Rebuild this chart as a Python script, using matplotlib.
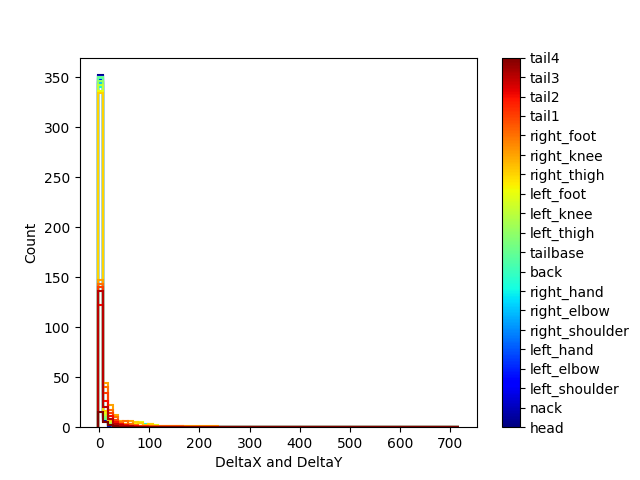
import numpy as np
import matplotlib
matplotlib.use("Agg")
import matplotlib.pyplot as plt
from matplotlib import cm
from matplotlib.colors import Normalize

# body parts in colour order (bottom -> top of the colorbar)
BODYPARTS = ["head", "nack", "left_shoulder", "left_elbow", "left_hand",
             "right_shoulder", "right_elbow", "right_hand", "back", "tailbase",
             "left_thigh", "left_knee", "left_foot", "right_thigh", "right_knee",
             "right_foot", "tail1", "tail2", "tail3", "tail4"]

# histogram bins (width 10, covering the DeltaX/DeltaY range)
BIN_START = -2.5
BIN_WIDTH = 10.0
N_BINS = 72

# counts per bin (remaining bins are zero)
HEAD = [352, 6, 1]
NACK = [351, 7, 1]
LEFT_SHOULDER = [348, 9, 2]
LEFT_ELBOW = [345, 11, 3, 1]
LEFT_HAND = [343, 14, 3, 1, 0, 0, 0, 0, 0, 2, 1]
RIGHT_SHOULDER = [346, 10, 3, 1]
RIGHT_ELBOW = [344, 12, 4, 1]
RIGHT_HAND = [340, 16, 4, 1, 0, 0, 0, 0, 0, 3, 1]
BACK = [349, 9, 2, 1]
TAILBASE = [350, 8, 2]
LEFT_THIGH = [346, 10, 3, 1]
LEFT_KNEE = [342, 12, 5, 1]
LEFT_FOOT = [336, 14, 6, 2, 1, 0, 0, 4, 5, 1, 3, 2]
RIGHT_THIGH = [334, 16, 7, 3, 1, 0, 1, 5, 4, 2, 3]
RIGHT_KNEE = [147, 44, 22, 12, 6, 3, 6, 2, 1, 1, 1, 1, 1, 1, 1, 1, 1, 1, 1, 1, 1, 1, 1, 1]
RIGHT_FOOT = [143, 40, 17, 10, 5, 6, 3, 2, 1, 1, 1, 1, 1, 1, 1, 1, 1]
TAIL1 = [140, 34, 14, 7, 3, 2, 1, 1, 1, 1]
TAIL2 = [122, 26, 11, 5, 3, 2, 1, 1]
TAIL3 = [136, 20, 8, 3, 2, 1, 1]
TAIL4 = [15, 5, 2, 1]

ALL_COUNTS = [HEAD, NACK, LEFT_SHOULDER, LEFT_ELBOW, LEFT_HAND, RIGHT_SHOULDER,
              RIGHT_ELBOW, RIGHT_HAND, BACK, TAILBASE, LEFT_THIGH, LEFT_KNEE,
              LEFT_FOOT, RIGHT_THIGH, RIGHT_KNEE, RIGHT_FOOT, TAIL1, TAIL2,
              TAIL3, TAIL4]


def main():
    edges = BIN_START + BIN_WIDTH * np.arange(N_BINS + 1)
    cmap = cm.get_cmap("jet") if hasattr(cm, "get_cmap") else matplotlib.colormaps["jet"]
    norm = Normalize(vmin=0, vmax=len(BODYPARTS) - 1)

    fig, ax = plt.subplots(figsize=(6.4, 4.8), dpi=100)
    for i, counts in enumerate(ALL_COUNTS):
        vals = np.zeros(N_BINS)
        vals[:len(counts)] = counts
        ax.stairs(vals, edges, color=cmap(norm(i)), linewidth=1.5)

    ax.set_xlabel("DeltaX and DeltaY")
    ax.set_ylabel("Count")

    sm = cm.ScalarMappable(cmap=cmap, norm=norm)
    sm.set_array([])
    cbar = fig.colorbar(sm, ax=ax)
    cbar.set_ticks(np.arange(len(BODYPARTS)))
    cbar.set_ticklabels(BODYPARTS)

    fig.savefig("out.png", dpi=100)


if __name__ == "__main__":
    main()
